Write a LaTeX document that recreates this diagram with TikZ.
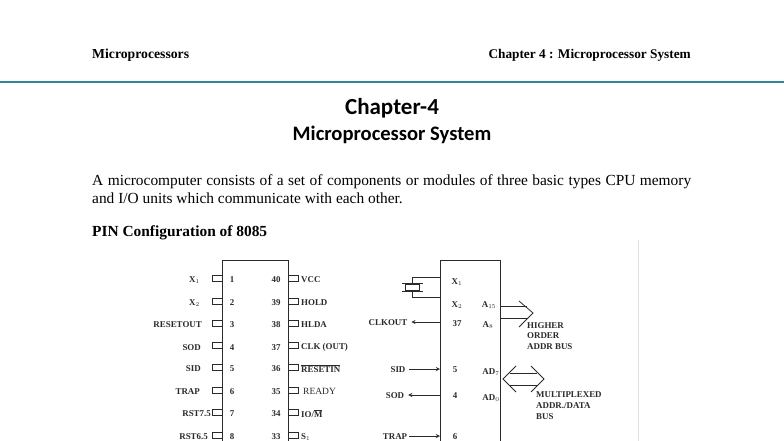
\documentclass[tikz,border=0pt]{standalone}
\usepackage{fontspec}
\setmainfont{Liberation Serif}
\newfontfamily\headfont{Carlito}
\usetikzlibrary{arrows}
\definecolor{rulecol}{HTML}{31859C}
\definecolor{inkcol}{HTML}{2A2A2A}
\tikzset{
  chipline/.style={draw=inkcol,line width=0.8pt},
  stub/.style={draw=inkcol,line width=0.8pt,rectangle,minimum width=10pt,minimum height=6pt,inner sep=0pt},
  pinno/.style={inkcol,font=\bfseries\fontsize{8.9}{10}\selectfont,inner sep=1pt,yshift=-0.8pt},
  pinl/.style={pinno,anchor=east},
  pinr/.style={pinno,anchor=west},
  sig/.style={pinno,anchor=west},
  sigtext/.style={pinno,outer sep=3pt},
  busline/.style={draw=inkcol,line width=0.8pt},
  sigarrow/.style={draw=inkcol,line width=0.9pt,->,>=stealth}
}
\begin{document}
\begin{tikzpicture}[x=1pt,y=-1pt]
\useasboundingbox (0,0) rectangle (784,441);
% page header
\node[anchor=west,inner sep=0pt,font=\bfseries\fontsize{13.7}{15}\selectfont] (headl) at (92,55) {Microprocessors};
\node[anchor=east,inner sep=0pt,font=\bfseries\fontsize{13.3}{15}\selectfont] (headr) at (691,55) {Chapter 4 : Microprocessor System};
\coordinate (rulel) at (0,82);
\coordinate (ruler) at (784,82);
\draw[rulecol,line width=1.5pt] (rulel) -- (ruler);
% titles and text
\node[inner sep=0pt,font=\headfont\bfseries\fontsize{23}{27}\selectfont] (title) at (392,108) {Chapter-4};
\node[inner sep=0pt,font=\headfont\bfseries\fontsize{20.6}{24}\selectfont] (subtitle) at (392,135) {Microprocessor System};
\node[anchor=west,inner sep=0pt,text width=599pt,align=justify,font=\fontsize{15.4}{18}\selectfont] (para) at (92,189.5) {A microcomputer consists of a set of components or modules of three basic types CPU memory and I/O units which communicate with each other.};
\node[anchor=west,inner sep=0pt,font=\bfseries\fontsize{15.4}{18}\selectfont] (pinhead) at (92,233) {PIN Configuration of 8085};
% edge of the scanned figure
\coordinate (figt) at (638,240);
\coordinate (figb) at (638,441);
\draw[black!12,line width=0.6pt] (figt) -- (figb);
% pin diagram
\coordinate (pkgbl) at (222,441);
\coordinate (pkgtl) at (222,260);
\coordinate (pkgtr) at (288,260);
\coordinate (pkgbr) at (288,441);
\draw[chipline] (pkgbl) -- (pkgtl) -- (pkgtr) -- (pkgbr);
\node[stub] (s1) at (217,278) {};
\node[stub] (s2) at (217,301) {};
\node[stub] (s3) at (217,323) {};
\node[stub] (s4) at (217,345) {};
\node[stub] (s5) at (217,367) {};
\node[stub] (s6) at (217,390) {};
\node[stub] (s7) at (217,412) {};
\node[stub] (s8) at (217,435) {};
\node[stub] (s40) at (293,278) {};
\node[stub] (s39) at (293,301) {};
\node[stub] (s38) at (293,323) {};
\node[stub] (s37) at (293,345) {};
\node[stub] (s36) at (293,367) {};
\node[stub] (s35) at (293,390) {};
\node[stub] (s34) at (293,412) {};
\node[stub] (s33) at (293,435) {};
\node[pinno] (n1) at (232,279) {1};
\node[pinno] (n2) at (232,302) {2};
\node[pinno] (n3) at (232,324) {3};
\node[pinno] (n4) at (232,347) {4};
\node[pinno] (n5) at (232,368) {5};
\node[pinno] (n6) at (232,391) {6};
\node[pinno] (n7) at (232,413) {7};
\node[pinno] (n8) at (232,436) {8};
\node[pinno] (n40) at (276,279) {40};
\node[pinno] (n39) at (276,302) {39};
\node[pinno] (n38) at (276,324) {38};
\node[pinno] (n37) at (276,347) {37};
\node[pinno] (n36) at (276,368) {36};
\node[pinno] (n35) at (276,391) {35};
\node[pinno] (n34) at (276,413) {34};
\node[pinno] (n33) at (276,436) {33};
\node[pinl] (lx1) at (201,279) {X$_1$};
\node[pinl] (lx2) at (201,302) {X$_2$};
\node[pinl] (lrstout) at (203,324) {RESETOUT};
\node[pinl] (lsod) at (202,347) {SOD};
\node[pinl] (lsid) at (202,368) {SID};
\node[pinl] (ltrap) at (201,391) {TRAP};
\node[pinl] (lrst75) at (212,413) {RST7.5};
\node[pinl] (lrst65) at (209,436) {RST6.5};
\node[pinr] (lvcc) at (300,279) {VCC};
\node[pinr] (lhold) at (300,302) {HOLD};
\node[pinr] (lhlda) at (300,324) {HLDA};
\node[pinr] (lclk) at (300,347) {CLK (OUT)};
\node[pinr] (lrstin) at (300,368) {$\overline{\mbox{RESETIN}}$};
\node[pinr,font=\fontsize{9.5}{10}\selectfont] (lready) at (302,391) {READY};
\node[pinr] (liom) at (300,413) {IO/$\overline{\mbox{M}}$};
\node[pinr] (ls1) at (300,436) {S$_1$};
% functional diagram
\coordinate (cpubl) at (440,441);
\coordinate (cputl) at (440,260);
\coordinate (cputr) at (500,260);
\coordinate (cpubr) at (500,441);
\draw[chipline] (cpubl) -- (cputl) -- (cputr) -- (cpubr);
% crystal
\coordinate (px1) at (440,277);
\coordinate (px2) at (440,297);
\node[draw=inkcol,line width=0.8pt,rectangle,minimum width=14pt,minimum height=6pt,inner sep=0pt] (xtal) at (412,287) {};
\coordinate (xtalt) at (412,277);
\coordinate (xtalb) at (412,297);
\coordinate (platea) at (402,283);
\coordinate (plateb) at (423,283);
\coordinate (platec) at (402,291);
\coordinate (plated) at (423,291);
\draw[chipline] (px1) -- (xtalt) -- (plateb -| xtalt);
\draw[chipline] (px2) -- (xtalb) -- (plated -| xtalb);
\draw[chipline] (platea) -- (plateb);
\draw[chipline] (platec) -- (plated);
\node[pinno] (cx1) at (457,281) {X$_1$};
\node[pinno] (cx2) at (457,304) {X$_2$};
\node[pinno] (c37) at (457,323) {37};
\node[pinno] (c5) at (455,369) {5};
\node[pinno] (c4) at (455,395) {4};
\node[pinno] (c6) at (455,436) {6};
\node[pinno] (ca15) at (489,304) {A$_{15}$};
\node[pinno] (ca8) at (488,324) {A$_8$};
\node[pinno] (cad7) at (491,371) {AD$_7$};
\node[pinno] (cad0) at (491,397) {AD$_0$};
\node[sigtext] (clkout) at (388,322) {CLKOUT};
\node[sigtext] (sid) at (398,369) {SID};
\node[sigtext] (sod) at (395,395) {SOD};
\node[sigtext,outer sep=1pt] (trap) at (395,436) {TRAP};
\coordinate (p37) at (440,322);
\coordinate (p5) at (440,369);
\coordinate (p4) at (440,395);
\coordinate (p6) at (440,436);
\draw[sigarrow] (p37) -- (p37 -| clkout.east);
\draw[sigarrow] (sid.east |- p5) -- (p5);
\draw[sigarrow] (p4) -- (p4 -| sod.east);
\draw[sigarrow] (trap.east |- p6) -- (p6);
% higher address bus
\coordinate (ha) at (500,306.5);
\coordinate (hb) at (500,318.5);
\coordinate (hc) at (527,306.5);
\coordinate (hd) at (527,318.5);
\coordinate (he) at (519,301);
\coordinate (hf) at (533,313);
\coordinate (hg) at (519,327);
\draw[busline] (ha) -- (hc);
\draw[busline] (hb) -- (hd);
\draw[busline] (he) -- (hf) -- (hg);
\node[sig] (hi1) at (526,324.5) {HIGHER};
\node[sig] (hi2) at (526,335) {ORDER};
\node[sig] (hi3) at (526,346) {ADDR BUS};
% multiplexed bus
\coordinate (ma) at (510,373);
\coordinate (mb) at (537,373);
\coordinate (mc) at (510,385);
\coordinate (md) at (537,385);
\coordinate (me) at (516,366);
\coordinate (mf) at (503,379);
\coordinate (mg) at (516,392);
\coordinate (mh) at (531,366);
\coordinate (mi) at (544,379);
\coordinate (mj) at (531,392);
\draw[busline] (ma) -- (mb);
\draw[busline] (mc) -- (md);
\draw[busline] (me) -- (mf) -- (mg);
\draw[busline] (mh) -- (mi) -- (mj);
\node[sig] (mu1) at (535,394) {MULTIPLEXED};
\node[sig] (mu2) at (535,405) {ADDR./DATA};
\node[sig] (mu3) at (535,416) {BUS};
\end{tikzpicture}
\end{document}
